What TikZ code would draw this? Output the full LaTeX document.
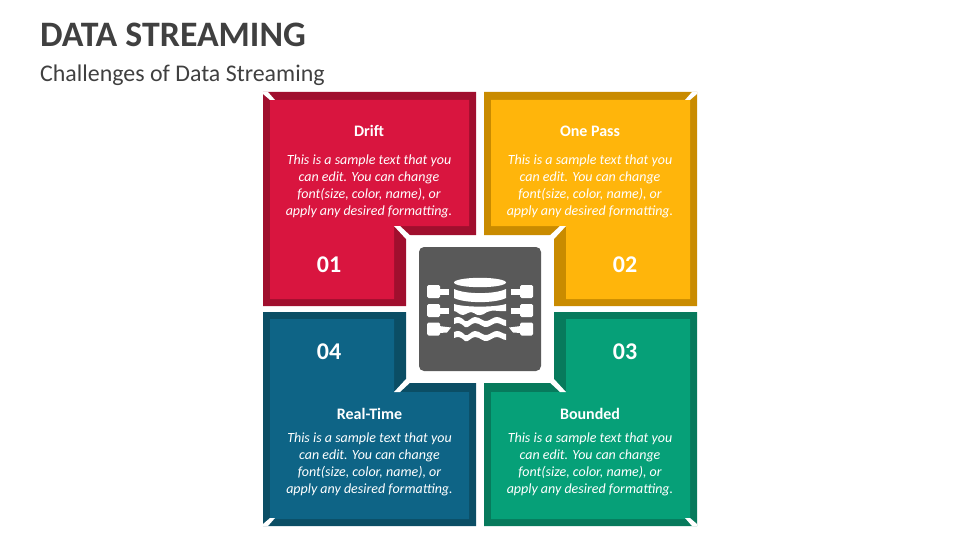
\documentclass[tikz,border=0pt]{standalone}
\usepackage{fontspec}
\setmainfont{Carlito}
\definecolor{redfront}{HTML}{D9153F}
\definecolor{redback}{HTML}{A00F2E}
\definecolor{yellowfront}{HTML}{FFB50B}
\definecolor{yellowback}{HTML}{C98B00}
\definecolor{bluefront}{HTML}{0E6486}
\definecolor{blueback}{HTML}{0B4E65}
\definecolor{greenfront}{HTML}{06A078}
\definecolor{greenback}{HTML}{077A5C}
\definecolor{titlegray}{HTML}{404040}
\definecolor{icongray}{HTML}{595959}
\tikzset{
  headtext/.style={text=white,font=\fontsize{16}{19}\selectfont\bfseries,anchor=center,inner sep=0pt},
  bodytext/.style={text=white,font=\fontsize{14}{17}\selectfont\itshape,align=center,anchor=center,inner sep=0pt},
  numtext/.style={text=white,font=\fontsize{24}{28}\selectfont\bfseries,anchor=center,inner sep=0pt},
  iconpart/.style={fill=white,draw=none}
}
\newcommand{\sampletext}{This is a sample text that you\\can edit. You can change\\font(size, color, name), or\\apply any desired formatting.}
\begin{document}
\begin{tikzpicture}[x=1pt,y=-1pt]
\useasboundingbox (0,0) rectangle (960,540);
\node[anchor=west,inner sep=0pt,text=titlegray,font=\fontsize{35.8}{40}\selectfont\bfseries] (title) at (40,35) {DATA STREAMING};
\node[anchor=west,inner sep=0pt,text=titlegray,font=\fontsize{23.9}{28}\selectfont] (subtitle) at (40,75) {Challenges of Data Streaming};
% back and front of the four cards
\fill[redback] (263,92) -- (476,92) -- (476,235) -- (406,235) -- (406,306) -- (263,306) -- cycle;
\fill[redfront] (270,100) -- (469,100) -- (469,226) -- (394,226) -- (394,299) -- (270,299) -- cycle;
\fill[yellowback] (697,92) -- (484,92) -- (484,235) -- (554,235) -- (554,306) -- (697,306) -- cycle;
\fill[yellowfront] (690,100) -- (491,100) -- (491,226) -- (566,226) -- (566,299) -- (690,299) -- cycle;
\fill[blueback] (263,526) -- (476,526) -- (476,383) -- (406,383) -- (406,312) -- (263,312) -- cycle;
\fill[bluefront] (270,519) -- (469,519) -- (469,392) -- (394,392) -- (394,319) -- (270,319) -- cycle;
\fill[greenback] (697,526) -- (484,526) -- (484,383) -- (554,383) -- (554,312) -- (697,312) -- cycle;
\fill[greenfront] (690,519) -- (491,519) -- (491,392) -- (566,392) -- (566,319) -- (690,319) -- cycle;
% white cuts at the outer corners
\foreach \a/\b/\sx/\sy in {263/92/1/1,697/92/-1/1,263/526/1/-1,697/526/-1/-1}
\fill[white] (\a,\b) -- ++(\sx*5,0) -- ++(\sx*7,\sy*8) -- ++(\sx*-5,0) -- ++(\sx*-7,\sy*-6) -- cycle;
% white cuts at the inner corners
\foreach \a/\b/\sx/\sy in {394/226/1/1,566/226/-1/1,394/392/1/-1,566/392/-1/-1}
\fill[white] (\a,\b) -- ++(\sx*6,0) -- ++(\sx*14,\sy*13) -- ++(\sx*-8,0) -- cycle;
% texts
\node[headtext] (drift) at (369,131) {Drift};
\node[bodytext] (drifttext) at (369,186) {\sampletext};
\node[numtext] (one) at (329,265) {01};
\node[headtext] (onepass) at (590,131) {One Pass};
\node[bodytext] (onepasstext) at (590,186) {\sampletext};
\node[numtext] (two) at (625,265) {02};
\node[headtext] (realtime) at (369.5,414) {Real-Time};
\node[bodytext] (realtimetext) at (369.5,464) {\sampletext};
\node[numtext] (four) at (329,352) {04};
\node[headtext] (bounded) at (590,414) {Bounded};
\node[bodytext] (boundedtext) at (590,464) {\sampletext};
\node[numtext] (three) at (625,352) {03};
% centre icon
\fill[icongray,rounded corners=5pt] (419,247) rectangle (541,371);
\fill[iconpart] (480,282.5) ellipse (26 and 4.7);
\fill[iconpart] (454,289) .. controls (465,294.5) and (495,294.5) .. (506,289) -- (506,298) .. controls (495,303.5) and (465,303.5) .. (454,298) -- cycle;
\fill[iconpart] (454,304) .. controls (465,307.5) and (495,307.5) .. (506,304) -- (506,311) .. controls (500,312) and (493,309) .. (487,312) .. controls (482,316) and (477,316) .. (474,313) .. controls (470,310) and (466,315) .. (463,315) .. controls (459,315) and (457,311) .. (454,311) -- cycle;
\foreach \y in {0,14}
\fill[iconpart,shift={(0,\y)}] (454,318) .. controls (458,316) and (461,317) .. (465,321) .. controls (468,323) and (471,317) .. (475,317) .. controls (480,317) and (483,322) .. (487,321) .. controls (491,320) and (493,317) .. (497,317) .. controls (500,317) and (503,320) .. (506,320) -- (506,326) .. controls (503,326) and (500,323) .. (497,323) .. controls (493,323) and (491,326) .. (487,327) .. controls (483,328) and (480,323) .. (475,323) .. controls (471,323) and (468,329) .. (465,327) .. controls (461,323) and (458,322) .. (454,324) -- cycle;
% small boxes left and right of the icon
\foreach \y in {291.5,310.5,329}{
\fill[iconpart,rounded corners=1.5pt] (427,\y-6.5) rectangle (440,\y+6.5);
\fill[iconpart,rounded corners=1.5pt] (520,\y-6.5) rectangle (533,\y+6.5);
}
\foreach \y in {291.5,310.5}{
\fill[iconpart] (439,\y-3) rectangle (449,\y+3);
\fill[iconpart] (511,\y-3) rectangle (521,\y+3);
}
\fill[iconpart] (439,326) -- (451,327.5) -- (447,332.5) -- (439,333) -- cycle;
\fill[iconpart] (521,326) -- (509,327.5) -- (513,332.5) -- (521,333) -- cycle;
\end{tikzpicture}
\end{document}
